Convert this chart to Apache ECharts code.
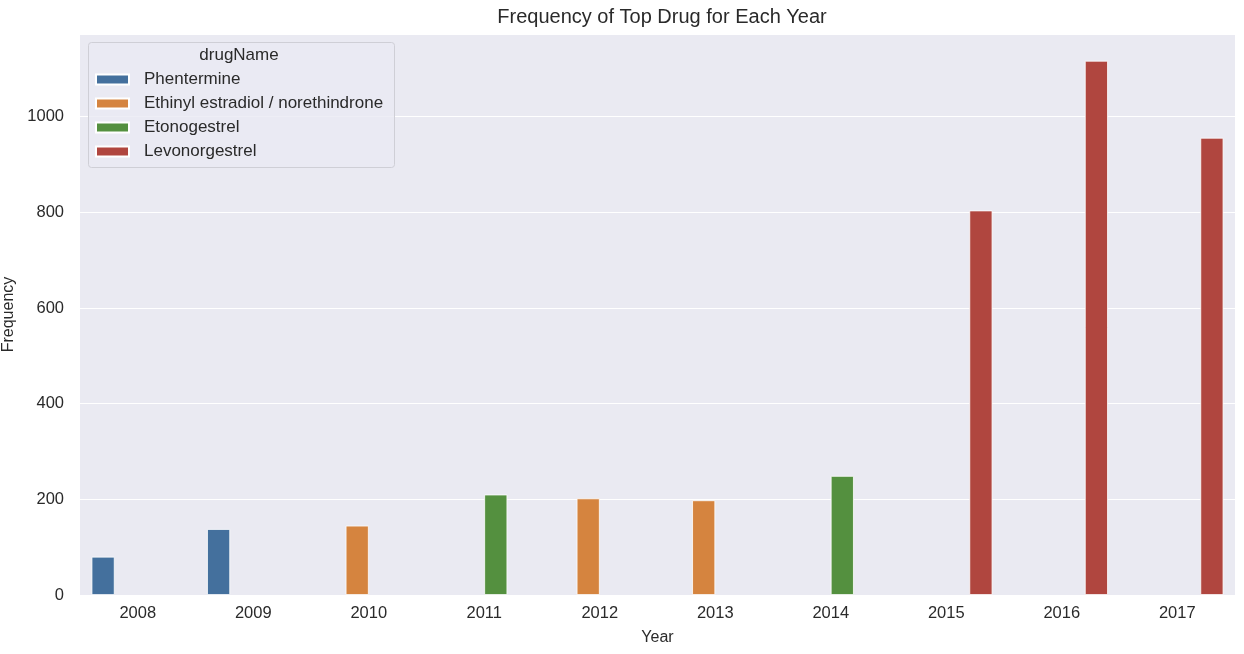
<!DOCTYPE html>
<html style="height: 100%">
<head>
<meta charset="utf-8">
<script src="https://cdn.jsdelivr.net/npm/echarts@6/dist/echarts.min.js"></script>
</head>
<body style="height: 100%; margin: 0; background: #fff">
<div id="container" style="width: 1244px; height: 654px;"></div>
<script type="text/javascript">
// 数据
var years = ['2008', '2009', '2010', '2011', '2012', '2013', '2014', '2015', '2016', '2017'];
var drugNames = ['Phentermine', 'Ethinyl estradiol / norethindrone', 'Etonogestrel', 'Levonorgestrel'];
var phentermine = [80, 138, null, null, null, null, null, null, null, null];
var ethinyl = [null, null, 145, null, 202, 198, null, null, null, null];
var etonogestrel = [null, null, null, 210, null, null, 249, null, null, null];
var levonorgestrel = [null, null, null, null, null, null, null, 804, 1117, 956];
var yTicks = [0, 200, 400, 600, 800, 1000];

var colors = ['#44709d', '#d5843f', '#54903f', '#b0463f'];
var fontFamily = '"Liberation Sans", Arial, sans-serif';

var dom = document.getElementById("container");
var myChart = echarts.init(dom);
var option = null;

function makeSeries(name, data, idx) {
	return {
		name: name,
		type: 'bar',
		data: data,
		barGap: '0%',
		barCategoryGap: '20%',
		itemStyle: {
			color: colors[idx],
			borderColor: '#ffffff',
			borderWidth: 0.8
		}
	};
}

option = {
	animation: false,
	textStyle: { fontFamily: fontFamily },
	title: {
		text: 'Frequency of Top Drug for Each Year',
		left: 657,
		textAlign: 'center',
		top: 2,
		textStyle: { fontSize: 20, fontWeight: 'normal', color: '#2a2a2a', fontFamily: fontFamily }
	},
	grid: {
		left: 80,
		right: 9,
		top: 34,
		bottom: 59,
		outerBoundsMode: 'none',
		containLabel: false,
		show: true,
		backgroundColor: '#eaeaf2',
		borderWidth: 0
	},
	graphic: [{
		type: 'rect',
		left: 88,
		top: 42,
		z: 10,
		shape: { width: 306, height: 125, r: 3 },
		style: { fill: 'rgba(234,234,242,0.8)', stroke: '#cfcfd6', lineWidth: 1 }
	}, {
		type: 'text',
		z: 11,
		x: 239,
		y: 47,
		style: { text: 'drugName', fill: '#2a2a2a', font: '17px ' + fontFamily, align: 'center' }
	}],
	legend: {
		data: drugNames,
		orient: 'vertical',
		left: 95,
		top: 71,
		padding: 0,
		itemWidth: 33,
		itemHeight: 10,
		itemGap: 7,
		z: 12,
		icon: 'rect',
		textStyle: { fontSize: 17, color: '#2a2a2a', fontFamily: fontFamily, padding: [0, 0, 0, 10] }
	},
	xAxis: {
		type: 'category',
		data: years,
		name: 'Year',
		nameLocation: 'middle',
		nameGap: 35,
		nameTextStyle: { fontSize: 16, color: '#2a2a2a' },
		axisLine: { show: false },
		axisTick: { show: false },
		axisLabel: { fontSize: 16.5, color: '#2a2a2a', margin: 10 },
		splitLine: { show: false }
	},
	yAxis: {
		type: 'value',
		min: yTicks[0],
		max: 1173,
		interval: yTicks[1] - yTicks[0],
		name: 'Frequency',
		nameLocation: 'middle',
		nameGap: 58,
		nameTextStyle: { fontSize: 16, color: '#2a2a2a' },
		axisLine: { show: false },
		axisTick: { show: false },
		axisLabel: {
			fontSize: 16.5, color: '#2a2a2a', margin: 16, showMaxLabel: false,
			formatter: function (v) { return String(v); }
		},
		splitLine: { lineStyle: { color: '#ffffff', width: 1.2 } }
	},
	series: [
		makeSeries(drugNames[0], phentermine, 0),
		makeSeries(drugNames[1], ethinyl, 1),
		makeSeries(drugNames[2], etonogestrel, 2),
		makeSeries(drugNames[3], levonorgestrel, 3)
	]
};

if (option && typeof option === "object") {
	myChart.setOption(option, true);
}
</script>
</body>
</html>
